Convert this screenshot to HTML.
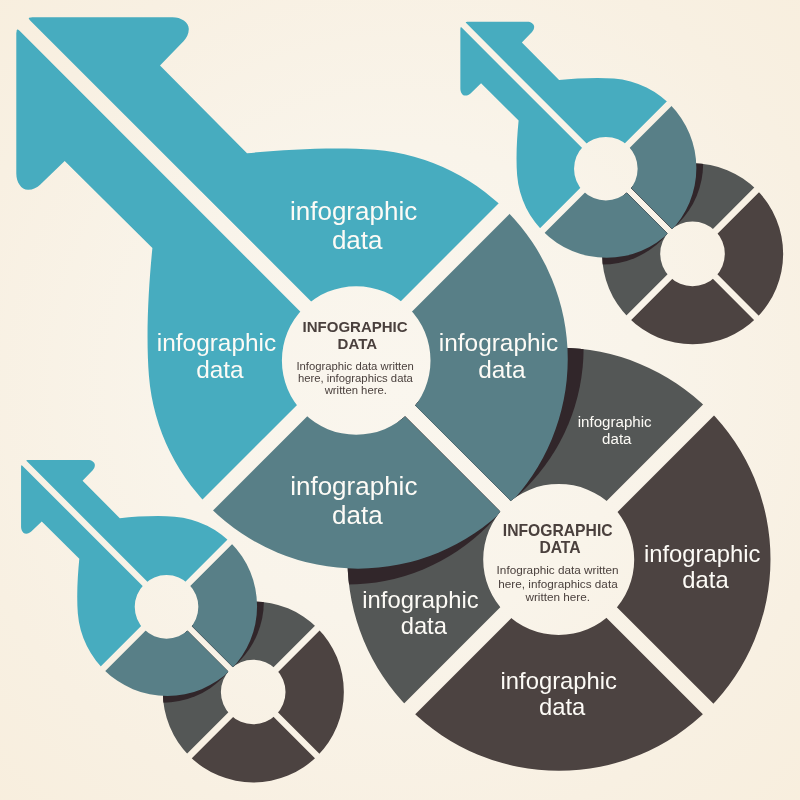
<!DOCTYPE html>
<html><head><meta charset="utf-8"><title>Infographic data</title>
<style>
html,body{margin:0;padding:0;background:#f8f3e8;}
body{width:800px;height:800px;overflow:hidden;}
svg{will-change:transform;display:block;font-family:"Liberation Sans",Arial,sans-serif;}
</style></head><body>
<svg width="800" height="800" viewBox="0 0 800 800">
<defs>
<radialGradient id="bg" cx="50%" cy="48%" r="75%">
<stop offset="0" stop-color="#faf6ee"/><stop offset="0.4" stop-color="#f9f4ea"/><stop offset="0.75" stop-color="#f8f0e2"/><stop offset="1" stop-color="#f8eedd"/>
</radialGradient>
<clipPath id="w1tl"><path d="M355.85,346.15 L29.90,20.20 Q26.90,17.20 31.70,17.20 L31.70,-900 L1055.85,-353.85 Z"/><path d="M345.35,356.65 L19.30,30.60 Q16.30,27.60 16.30,32.40 L-900,32.40 L-354.65,1056.65 Z"/></clipPath>
<clipPath id="w1rb"><polygon points="366.60,356.90 1066.60,-343.10 1066.60,1056.90"/><polygon points="356.10,367.40 -343.90,1067.40 1056.10,1067.40"/></clipPath>
<clipPath id="w2tl"><polygon points="558.65,548.95 -141.35,-151.05 1258.65,-151.05"/><polygon points="548.15,559.45 -151.85,-140.55 -151.85,1259.45"/></clipPath>
<clipPath id="w2rb"><polygon points="569.60,559.90 1269.60,-140.10 1269.60,1259.90"/><polygon points="559.10,570.40 -140.90,1270.40 1259.10,1270.40"/></clipPath>
<clipPath id="notI1"><path clip-rule="evenodd" d="M-3000,-3000 H4000 V4000 H-3000 Z M281.90,360.50 A74.30,74.30 0 1 0 430.50,360.50 A74.30,74.30 0 1 0 281.90,360.50 Z"/></clipPath>
<clipPath id="notI2"><path clip-rule="evenodd" d="M-3000,-3000 H4000 V4000 H-3000 Z M483.20,559.40 A75.50,75.50 0 1 0 634.20,559.40 A75.50,75.50 0 1 0 483.20,559.40 Z"/></clipPath>
<clipPath id="ring2"><path clip-rule="evenodd" d="M347.50,559.30 A211.50,211.50 0 1 1 770.50,559.30 A211.50,211.50 0 1 1 347.50,559.30 Z M483.20,559.40 A75.50,75.50 0 1 0 634.20,559.40 A75.50,75.50 0 1 0 483.20,559.40 Z"/></clipPath>
<filter id="nf" x="0" y="0" width="800" height="800" filterUnits="userSpaceOnUse"><feOffset dx="0" dy="0"/></filter>
<g id="grp">
 <g clip-path="url(#notI1)">
 <g clip-path="url(#w2tl)"><path fill-rule="evenodd" fill="#545756" d="M347.50,559.30 A211.50,211.50 0 1 1 770.50,559.30 A211.50,211.50 0 1 1 347.50,559.30 Z M483.20,559.40 A75.50,75.50 0 1 0 634.20,559.40 A75.50,75.50 0 1 0 483.20,559.40 Z"/>
  <g clip-path="url(#ring2)" fill="#31262a"><circle cx="385.0" cy="348.0" r="198.6"/><circle cx="347.10" cy="385.90" r="198.6"/></g>
 </g>
 <g clip-path="url(#w2rb)"><path fill-rule="evenodd" fill="#4c4341" d="M347.50,559.30 A211.50,211.50 0 1 1 770.50,559.30 A211.50,211.50 0 1 1 347.50,559.30 Z M483.20,559.40 A75.50,75.50 0 1 0 634.20,559.40 A75.50,75.50 0 1 0 483.20,559.40 Z"/></g>
 </g>
 <g clip-path="url(#notI2)">
 <g clip-path="url(#w1rb)"><path fill-rule="evenodd" fill="#587f87" d="M148.25,358.90 A209.75,209.75 0 1 1 567.75,358.90 A209.75,209.75 0 1 1 148.25,358.90 Z M281.90,360.50 A74.30,74.30 0 1 0 430.50,360.50 A74.30,74.30 0 1 0 281.90,360.50 Z"/></g>
 <g clip-path="url(#w1tl)"><path fill-rule="evenodd" fill="#47acbf" d="M16.3,17.20 L172.50,17.20 C181.00,17.20 188.80,22.00 188.80,29.00 C188.80,34.00 186.50,38.00 183.75,41.00 L160.00,65.60 L247.00,153.30 C285.00,149.50 335.00,146.60 375.00,149.84 A209.75,209.75 0 1 1 148.94,375.90 C145.70,335.90 148.60,285.90 152.40,247.90 L64.70,160.90 L40.10,184.65 C37.10,187.40 33.10,189.70 28.10,189.70 C21.10,189.70 16.30,181.90 16.30,173.40 Z M281.90,360.50 A74.30,74.30 0 1 0 430.50,360.50 A74.30,74.30 0 1 0 281.90,360.50 Z"/></g>
 </g>
</g>
</defs>
<rect width="800" height="800" fill="url(#bg)"/>
<use href="#grp" transform="translate(453.38,14.43) scale(0.4280)"/>
<use href="#grp" transform="translate(14.08,452.58) scale(0.4280)"/>
<use href="#grp"/>
<g opacity="0.999"><text font-size="26.00" text-anchor="middle" fill="#fdfbf6"><tspan x="353.60" y="220.20">infographic</tspan><tspan x="357.21" y="248.60">data</tspan></text><text font-size="24.40" text-anchor="middle" fill="#fdfbf6"><tspan x="216.50" y="351.00">infographic</tspan><tspan x="219.89" y="378.00">data</tspan></text><text font-size="24.40" text-anchor="middle" fill="#fdfbf6"><tspan x="498.50" y="351.00">infographic</tspan><tspan x="501.89" y="377.70">data</tspan></text><text font-size="26.00" text-anchor="middle" fill="#fdfbf6"><tspan x="353.80" y="495.00">infographic</tspan><tspan x="357.41" y="524.00">data</tspan></text><text font-size="15.10" text-anchor="middle" fill="#fdfbf6"><tspan x="614.70" y="426.70">infographic</tspan><tspan x="616.80" y="443.50">data</tspan></text><text font-size="23.80" text-anchor="middle" fill="#fdfbf6"><tspan x="420.50" y="608.00">infographic</tspan><tspan x="423.81" y="634.40">data</tspan></text><text font-size="23.80" text-anchor="middle" fill="#fdfbf6"><tspan x="702.20" y="561.60">infographic</tspan><tspan x="705.51" y="588.00">data</tspan></text><text font-size="23.80" text-anchor="middle" fill="#fdfbf6"><tspan x="558.80" y="689.00">infographic</tspan><tspan x="562.11" y="715.40">data</tspan></text></g>
<g fill="#4a403d" text-anchor="middle" filter="url(#nf)">
<text font-size="15" font-weight="bold"><tspan x="355.05" y="331.9">INFOGRAPHIC</tspan><tspan x="357.3" y="348.7">DATA</tspan></text>
<text font-size="11.3"><tspan x="355.1" y="369.6">Infographic data written</tspan><tspan x="355.4" y="382.1">here, infographics data</tspan><tspan x="355.8" y="394.2">written here.</tspan></text>
<text font-size="15.7" font-weight="bold"><tspan x="557.7" y="536.0">INFOGRAPHIC</tspan><tspan x="560" y="552.7">DATA</tspan></text>
<text font-size="11.74"><tspan x="557.6" y="574.3">Infographic data written</tspan><tspan x="558" y="587.5">here, infographics data</tspan><tspan x="557.7" y="600.6">written here.</tspan></text>
</g>
</svg>
</body></html>
